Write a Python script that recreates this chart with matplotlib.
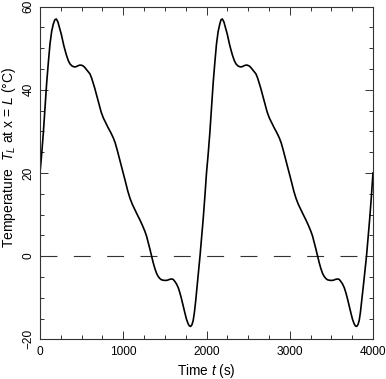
import matplotlib
matplotlib.use("Agg")
import matplotlib.pyplot as plt
from matplotlib.ticker import MultipleLocator

plt.rcParams['font.family'] = ['Liberation Sans', 'DejaVu Sans']
plt.rcParams['mathtext.fontset'] = 'custom'
plt.rcParams['mathtext.rm'] = 'Liberation Sans'
plt.rcParams['mathtext.it'] = 'Liberation Sans:italic'
plt.rcParams['lines.scale_dashes'] = False

# first cycle (s, degC)
time_1 = [0, 20, 40, 60, 80, 100, 120, 140, 160, 178, 196, 215, 235, 256,
          286, 316, 340, 360, 385, 408, 430, 450, 475, 496, 520, 540, 560,
          600, 620, 657, 685, 709, 735, 761, 790, 820, 850, 881, 905, 930,
          955, 981, 1005, 1030, 1055, 1081, 1110, 1141, 1170, 1200, 1230,
          1261, 1280, 1300, 1320, 1341, 1360, 1380, 1401, 1420, 1440, 1460,
          1481, 1505, 1530, 1555, 1581, 1600, 1620, 1640, 1661, 1680, 1700,
          1720, 1742, 1760, 1780, 1795, 1810, 1825, 1840, 1855, 1870, 1890,
          1910, 1922, 1940, 1960, 1980]
temp_1 = [20, 24.5, 29.6, 35.6, 41.6, 46.5, 51, 54, 55.8, 56.8, 57, 56.3,
          54.8, 53.3, 50.6, 48.4, 47, 46.2, 45.7, 45.5, 45.5, 45.7, 45.9,
          45.9, 45.7, 45.3, 44.8, 43.8, 42.8, 40.4, 38.3, 36.4, 34.6, 33.2,
          32.0, 30.8, 29.7, 28.4, 27.1, 25.3, 23.4, 21.5, 19.6, 17.6, 15.6,
          13.9, 12.4, 11.1, 9.9, 8.7, 7.4, 5.9, 4.8, 3.3, 1.7, 0, -1.6, -3.0,
          -4.2, -4.9, -5.4, -5.7, -5.8, -5.85, -5.8, -5.6, -5.5, -5.6, -6.1,
          -6.7, -7.6, -8.8, -10.3, -12.0, -13.8, -15.2, -16.3, -16.8, -16.9,
          -16.5, -15.5, -13.5, -10.8, -6.6, -2.3, 0, 4.2, 8.9, 14.2]

# second cycle
time_2 = [2000, 2020, 2040, 2060, 2080, 2100, 2120, 2140, 2160, 2174, 2190,
          2209, 2229, 2250, 2280, 2310, 2334, 2354, 2379, 2402, 2424, 2444,
          2469, 2490, 2514, 2534, 2554, 2594, 2614, 2651, 2679, 2703, 2729,
          2755, 2784, 2814, 2844, 2875, 2899, 2924, 2949, 2975, 2999, 3024,
          3049, 3075, 3104, 3135, 3164, 3194, 3224, 3255, 3274, 3294, 3314,
          3335, 3354, 3374, 3395, 3414, 3434, 3454, 3475, 3499, 3524, 3549,
          3575, 3594, 3614, 3634, 3655, 3674, 3694, 3714, 3736, 3754, 3774,
          3789, 3804, 3819, 3834, 3849, 3864, 3887, 3909, 3922, 3940, 3960,
          3980, 4000]
temp_2 = [20, 24.5, 29.6, 35.6, 41.6, 46.5, 51, 54, 55.8, 56.8, 57, 56.3,
          54.8, 53.3, 50.6, 48.4, 47, 46.2, 45.7, 45.5, 45.5, 45.7, 45.9,
          45.9, 45.7, 45.3, 44.8, 43.8, 42.8, 40.4, 38.3, 36.4, 34.6, 33.2,
          32.0, 30.8, 29.7, 28.4, 27.1, 25.3, 23.4, 21.5, 19.6, 17.6, 15.6,
          13.9, 12.4, 11.1, 9.9, 8.7, 7.4, 5.9, 4.8, 3.3, 1.7, 0, -1.6, -3.0,
          -4.2, -4.9, -5.4, -5.7, -5.8, -5.85, -5.8, -5.6, -5.5, -5.6, -6.1,
          -6.7, -7.6, -8.8, -10.3, -12.0, -13.8, -15.2, -16.3, -16.8, -16.9,
          -16.5, -15.5, -13.5, -10.8, -6.6, -2.3, 0, 4.2, 8.9, 14.2, 20]

ref_level = 0
x_ticks = [0, 1000, 2000, 3000, 4000]
y_ticks = [-20, 0, 20, 40, 60]

times = time_1 + time_2
temps = temp_1 + temp_2

fig = plt.figure(figsize=(3.86, 3.79), dpi=100)
ax = fig.add_axes([40 / 386, (379 - 339.3) / 379, 333 / 386, 332.8 / 379])

ax.axhline(ref_level, color='#333333', lw=0.8, dashes=(12.2, 11.8))
ax.plot(times, temps, color='black', lw=1.2, solid_joinstyle='round')

ax.set_xlim(0, 4000)
ax.set_ylim(-20, 60)
ax.set_xticks(x_ticks)
ax.set_yticks(y_ticks)
ax.xaxis.set_minor_locator(MultipleLocator(250))
ax.yaxis.set_minor_locator(MultipleLocator(5))

ax.tick_params(which='both', direction='in', top=True, right=True,
               width=0.7, labelsize=8.6, color='#333333')
ax.tick_params(which='major', length=6)
ax.tick_params(which='minor', length=3)
ax.tick_params(axis='x', pad=5)
ax.tick_params(axis='y', pad=4, labelrotation=90)
for lbl in ax.get_yticklabels():
    lbl.set_va('center')

for s in ax.spines.values():
    s.set_linewidth(0.8)
    s.set_color('#333333')

ax.set_xlabel('Time $t$ (s)', fontsize=9.8)
ax.set_ylabel('Temperature  $T_L$ at x = $L$ (°C)', fontsize=10)
ax.xaxis.set_label_coords(0.5, -0.094)
ax.xaxis.label.set_va('center')
ax.yaxis.set_label_coords(-0.093, 0.545)
ax.yaxis.label.set_va('center')

fig.savefig('out.png', dpi=100)
